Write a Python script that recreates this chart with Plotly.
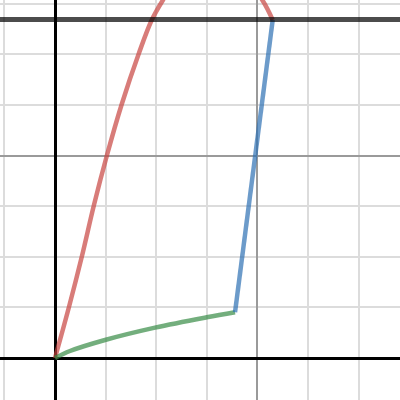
import plotly.graph_objects as go

# values (Desmos-style cycle); the top of the red arc is off-screen, estimated
red_x = [0, 0.138, 0.264, 0.385, 0.514, 0.657, 0.830, 0.956, 1.067, 1.285, 1.522, 1.779, 2.048, 2.151]
red_y = [0, 0.504, 0.998, 1.512, 2.006, 2.500, 3.014, 3.340, 3.538, 3.860, 3.980, 3.870, 3.538, 3.340]

green_x = [0, 0.148, 0.494, 0.988, 1.499, 1.779]
green_y = [0, 0.069, 0.178, 0.300, 0.402, 0.452]

blue_x = [1.779, 2.151]
blue_y = [0.452, 3.340]

top_level = 3.345  # the thick gray horizontal line

fig = go.Figure()

fig.add_trace(go.Scatter(x=red_x, y=red_y, mode='lines',
                         line=dict(color='rgba(199,68,64,0.7)', width=4.5, shape='spline'),
                         hoverinfo='skip'))
fig.add_trace(go.Scatter(x=green_x, y=green_y, mode='lines',
                         line=dict(color='rgba(56,140,70,0.7)', width=4.5, shape='spline'),
                         hoverinfo='skip'))
fig.add_trace(go.Scatter(x=blue_x, y=blue_y, mode='lines',
                         line=dict(color='rgba(45,112,179,0.7)', width=4.5),
                         hoverinfo='skip'))

fig.add_hline(y=top_level, line=dict(color='rgba(0,0,0,0.7)', width=5), layer='above')

axis_style = dict(
    showticklabels=False,
    ticks='',
    dtick=2,
    tick0=0,
    showgrid=True,
    gridcolor='#9a9a9a',
    gridwidth=1.5,
    minor=dict(dtick=0.5, tick0=0, showgrid=True, gridcolor='#dcdcdc', gridwidth=1.5),
    zeroline=True,
    zerolinecolor='black',
    zerolinewidth=3,
    showline=False,
    fixedrange=True,
)

fig.update_layout(
    width=400, height=400,
    margin=dict(l=0, r=0, t=0, b=0),
    paper_bgcolor='white',
    plot_bgcolor='white',
    showlegend=False,
    xaxis=dict(range=[-0.5435, 3.409], **axis_style),
    yaxis=dict(range=[-0.415, 3.5375], **axis_style),
)

# drop the page's default 8px body margin so the chart fills the window
fig.write_html("out.html", config={'displayModeBar': False},
               post_script="document.body.style.margin='0';")
